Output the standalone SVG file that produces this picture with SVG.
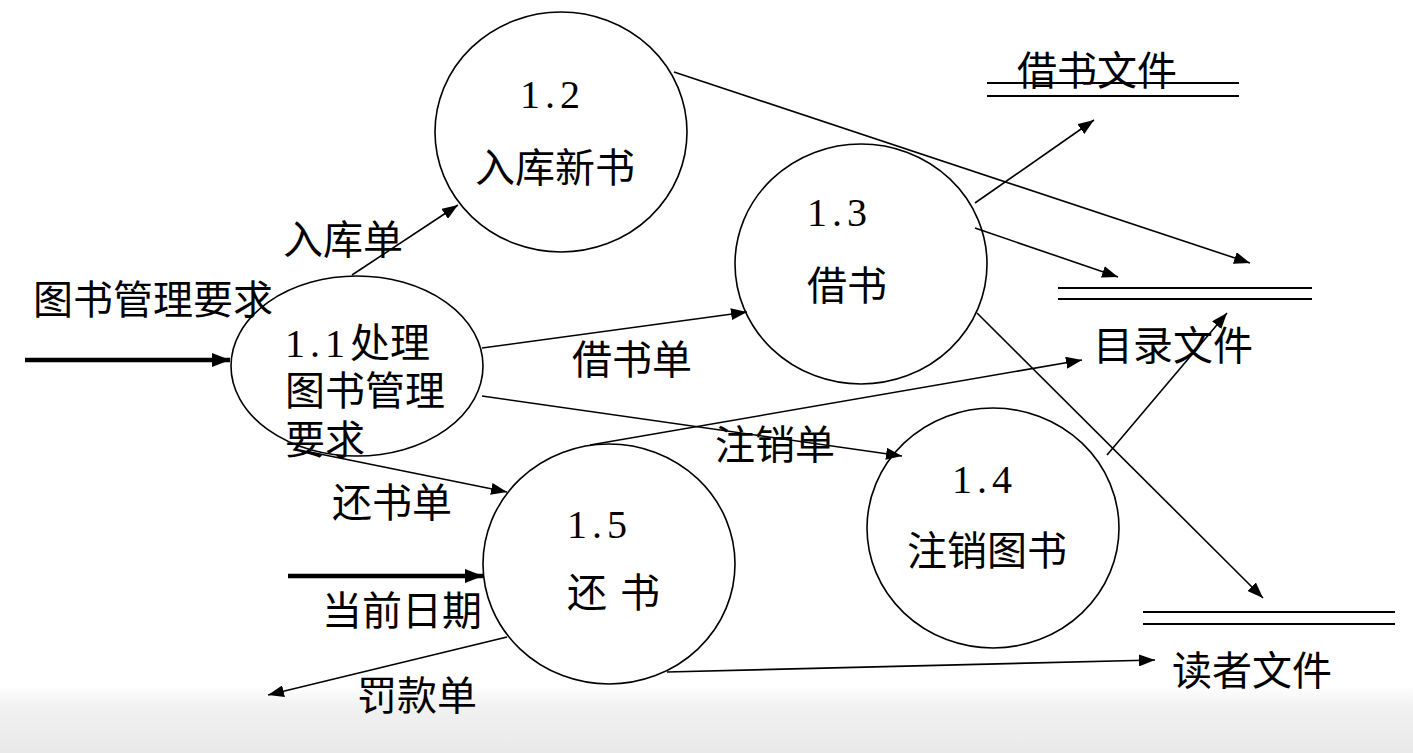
<svg xmlns="http://www.w3.org/2000/svg" width="1413" height="753" viewBox="0 0 1413 753">
<style>
.node{fill:none;stroke:#000;stroke-width:1.6}
.flow{fill:none;stroke:#000;stroke-width:1.6}
.thick{fill:none;stroke:#000;stroke-width:4.5}
.store{stroke:#000;stroke-width:2}
text{font-family:"Noto Sans CJK SC","Liberation Serif",sans-serif;font-size:40px;fill:#000}
.tight{font-family:"Liberation Sans","Noto Sans CJK SC",sans-serif}
.num{font-family:"Liberation Serif",serif;letter-spacing:5px}
</style>
<defs>
<marker id="ah" markerUnits="userSpaceOnUse" markerWidth="18" markerHeight="12" refX="16" refY="6" orient="auto">
<path d="M0,0 L16,6 L0,12 Z" fill="#000"/>
</marker>
<marker id="ahb" markerUnits="userSpaceOnUse" markerWidth="20" markerHeight="14" refX="18" refY="7" orient="auto">
<path d="M0,0 L18,7 L0,14 Z" fill="#000"/>
</marker>
<linearGradient id="bg" x1="0" y1="0" x2="0" y2="1">
<stop offset="0" stop-color="#ffffff"/>
<stop offset="0.3" stop-color="#f1f1f1"/>
<stop offset="1" stop-color="#e9e9e9"/>
</linearGradient>
</defs>
<rect x="0" y="0" width="1413" height="753" fill="#fff"/>
<rect x="0" y="686" width="1413" height="67" fill="url(#bg)"/>

<g id="connectors">
<line class="thick" x1="25" y1="360" x2="230" y2="360" marker-end="url(#ahb)"/>
<line class="thick" x1="288" y1="576" x2="483" y2="576" marker-end="url(#ahb)"/>
<line class="flow" x1="352" y1="275" x2="458" y2="205" marker-end="url(#ah)"/>
<line class="flow" x1="482" y1="348" x2="747" y2="312" marker-end="url(#ah)"/>
<line class="flow" x1="482" y1="396" x2="902" y2="456" marker-end="url(#ah)"/>
<line class="flow" x1="310" y1="452" x2="507" y2="492" marker-end="url(#ah)"/>
<line class="flow" x1="590" y1="445" x2="1082" y2="360" marker-end="url(#ah)"/>
<line class="flow" x1="1107" y1="455" x2="1227" y2="313" marker-end="url(#ah)"/>
<line class="flow" x1="975" y1="203" x2="1094" y2="120" marker-end="url(#ah)"/>
<line class="flow" x1="975" y1="228" x2="1118" y2="277" marker-end="url(#ah)"/>
<line class="flow" x1="674" y1="72" x2="1250" y2="263" marker-end="url(#ah)"/>
<line class="flow" x1="977" y1="313" x2="1263" y2="598" marker-end="url(#ah)"/>
<line class="flow" x1="667" y1="672" x2="1155" y2="660" marker-end="url(#ah)"/>
<line class="flow" x1="507" y1="637" x2="268" y2="695" marker-end="url(#ah)"/>
</g>

<g id="store-jieshu">
<line class="store" x1="987" y1="83" x2="1239" y2="83"/>
<line class="store" x1="987" y1="96" x2="1239" y2="96"/>
<text x="1017" y="85">借书文件</text>
</g>
<g id="store-mulu">
<line class="store" x1="1058" y1="288" x2="1312" y2="288"/>
<line class="store" x1="1058" y1="299" x2="1312" y2="299"/>
<text x="1093" y="360">目录文件</text>
</g>
<g id="store-duzhe">
<line class="store" x1="1143" y1="612" x2="1395" y2="612"/>
<line class="store" x1="1143" y1="624" x2="1395" y2="624"/>
<text x="1172" y="685">读者文件</text>
</g>

<g id="node-1-1">
<ellipse class="node" cx="357" cy="366" rx="126" ry="90"/>
<text class="tight" x="285" y="357"><tspan class="num">1.1</tspan>处理</text>
<text class="tight" x="285" y="405">图书管理</text>
<text class="tight" x="285" y="454">要求</text>
</g>
<g id="node-1-2">
<ellipse class="node" cx="561" cy="132" rx="126" ry="120"/>
<text class="num" x="520" y="108">1.2</text>
<text x="475" y="182">入库新书</text>
</g>
<g id="node-1-3">
<ellipse class="node" cx="861" cy="264" rx="126" ry="120"/>
<text class="num" x="807" y="226">1.3</text>
<text x="807" y="300">借书</text>
</g>
<g id="node-1-4">
<ellipse class="node" cx="993" cy="528" rx="126" ry="120"/>
<text class="num" x="952" y="493">1.4</text>
<text x="907" y="565">注销图书</text>
</g>
<g id="node-1-5">
<ellipse class="node" cx="609" cy="564" rx="126" ry="120"/>
<text class="num" x="567" y="538">1.5</text>
<text x="567" y="607">还<tspan x="620">书</tspan></text>
</g>

<g id="labels">
<text x="33" y="314">图书管理要求</text>
<text x="283" y="254">入库单</text>
<text x="572" y="374">借书单</text>
<text x="715" y="459">注销单</text>
<text x="332" y="517">还书单</text>
<text x="322" y="625">当前日期</text>
<text x="357" y="710">罚款单</text>
</g>
</svg>
